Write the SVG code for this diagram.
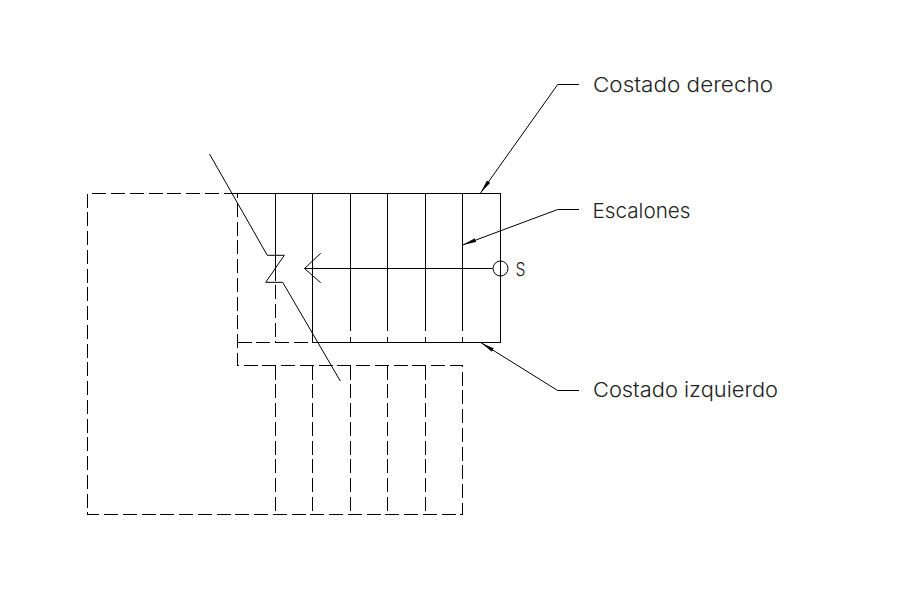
<svg xmlns="http://www.w3.org/2000/svg" width="917" height="608" viewBox="0 0 917 608">
<style>
.s{fill:none;stroke:#000;stroke-width:1}
.o{shape-rendering:crispEdges}
.d{fill:none;stroke:#000;stroke-width:1;stroke-dasharray:14 4.75;shape-rendering:crispEdges}
.t{font-family:"Inter","Liberation Sans",sans-serif;font-weight:300;font-size:20.5px;fill:#222}
</style>
<defs>
<marker id="ah" markerUnits="userSpaceOnUse" markerWidth="16" markerHeight="6" refX="14" refY="3" orient="auto-start-reverse"><path d="M0 1 L14 3 L0 5 Z" fill="#000"/></marker>
</defs>
<rect width="917" height="608" fill="#fff"/>
<g id="escalera-superior">
<path class="s o" d="M237.5 193.5H500.5V342.5H312.5"/>
<path class="s o" d="M275.5 193.5V281M312.5 193.5V342.5M350.5 193.5V331M387.5 193.5V331M425.5 193.5V331M462.5 193.5V331"/>
<path class="s o" d="M350.5 337V342.5M387.5 337V342.5M425.5 337V342.5M462.5 337V342.5"/>
</g>
<g id="escalera-oculta">
<path class="d" d="M237.5 193.5H87.5V514.5H462.5V365.5H237.5V193.5"/>
<path class="d" d="M237.5 342.5H312.5"/>
<path class="d" d="M275.5 285V342.5"/>
<path class="d" d="M275.5 365.5V514.5M312.5 365.5V514.5M350.5 365.5V514.5M387.5 365.5V514.5M425.5 365.5V514.5"/>
</g>
<g id="corte">
<path class="s" d="M209.5 154L267.3 255.3H284.3L265.7 282.3H282.7L340.3 381"/>
</g>
<g id="subida">
<path class="s" d="M492.5 268.5H304.5M320.7 253.3L304.5 268.5L320.7 282.7"/>
<circle class="s" cx="500.5" cy="268.5" r="7.5"/>
<text class="t" x="515.5" y="275.5" style="font-size:19px" textLength="10" lengthAdjust="spacingAndGlyphs">S</text>
</g>
<g id="conectores">
<path class="s" d="M579 84.5H557.7L480.5 193" marker-end="url(#ah)"/>
<path class="s" d="M579 209.5H557.7L462.5 245" marker-end="url(#ah)"/>
<path class="s" d="M579 390.5H557.7L481 342.7" marker-end="url(#ah)"/>
</g>
<g id="costado-derecho"><text class="t" x="593" y="92" textLength="180" lengthAdjust="spacingAndGlyphs">Costado derecho</text></g>
<g id="escalones"><text class="t" x="592.5" y="218" textLength="98" lengthAdjust="spacingAndGlyphs">Escalones</text></g>
<g id="costado-izquierdo"><text class="t" x="593" y="397" textLength="185" lengthAdjust="spacingAndGlyphs">Costado izquierdo</text></g>
</svg>
